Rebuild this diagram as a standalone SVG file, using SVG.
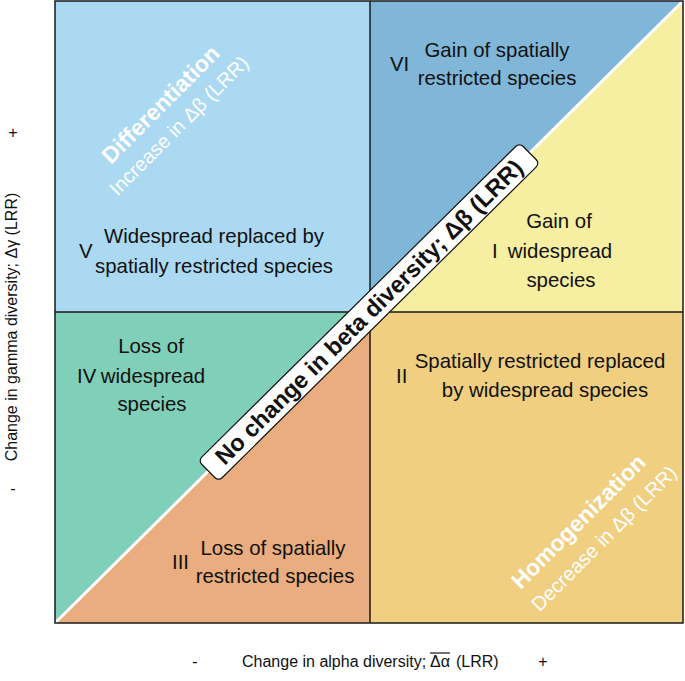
<svg xmlns="http://www.w3.org/2000/svg" width="685" height="681" viewBox="0 0 685 681">
<style>
text{font-family:"Liberation Sans",Arial,sans-serif;fill:#111;}
.q{font-size:20.4px;}
.qc{font-size:20.4px;text-anchor:middle;}
.ax{font-size:16px;}
.axc{font-size:16px;text-anchor:middle;}
.big{font-size:23px;font-weight:bold;fill:#fff;text-anchor:middle;}
.sub{font-size:20px;fill:#fff;text-anchor:middle;}
.div{stroke:#1a1a1a;stroke-width:1.5;fill:none;}
</style>
<rect width="685" height="681" fill="#fff"/>
<g id="quadrants">
<rect id="q-topleft" x="55" y="1" width="315" height="311" fill="#abd9f2"/>
<polygon id="q-vi" points="370,1 683,1 370,312" fill="#80b6d8"/>
<polygon id="q-i" points="683,1 683,312 370,312" fill="#f6eea0"/>
<polygon id="q-iv" points="55,312 370,312 55,623" fill="#80cfb8"/>
<polygon id="q-iii" points="370,312 370,623 55,623" fill="#e9ad80"/>
<rect id="q-ii" x="370" y="312" width="313" height="311" fill="#f0cf80"/>
</g>
<g id="connectors">
<line class="div" x1="370" y1="1" x2="370" y2="623"/>
<line class="div" x1="55" y1="312" x2="683" y2="312"/>
<line x1="55" y1="623" x2="683" y2="1" stroke="#fff" stroke-width="3"/>
<rect x="55" y="1" width="628" height="622" fill="none" stroke="#1a1a1a" stroke-width="1.5"/>
</g>
<g id="node-differentiation" transform="translate(166,110) rotate(-45)">
<text class="big" x="0" y="0">Differentiation</text>
<text class="sub" x="-2" y="27">Increase in Δβ (LRR)</text>
</g>
<g id="node-homogenization" transform="translate(584,527) rotate(-45)">
<text class="big" x="0" y="0">Homogenization</text>
<text class="sub" x="6" y="29">Decrease in Δβ (LRR)</text>
</g>
<g id="node-v">
<text class="q" x="79" y="258">V</text>
<text class="qc" x="214" y="243">Widespread replaced by</text>
<text class="qc" x="214" y="273">spatially restricted species</text>
</g>
<g id="node-vi">
<text class="q" x="390" y="71">VI</text>
<text class="qc" x="497" y="57">Gain of spatially</text>
<text class="qc" x="497" y="85">restricted species</text>
</g>
<g id="node-i">
<text class="qc" x="559" y="228">Gain of</text>
<text class="q" x="492" y="258">I</text>
<text class="qc" x="560" y="258">widespread</text>
<text class="qc" x="561" y="287">species</text>
</g>
<g id="node-iv">
<text class="qc" x="151" y="353">Loss of</text>
<text class="q" x="77" y="383">IV</text>
<text class="qc" x="153" y="383">widespread</text>
<text class="qc" x="152" y="411">species</text>
</g>
<g id="node-iii">
<text class="q" x="172" y="569">III</text>
<text class="qc" x="273" y="555">Loss of spatially</text>
<text class="qc" x="275" y="583">restricted species</text>
</g>
<g id="node-ii">
<text class="q" x="396" y="383">II</text>
<text class="qc" x="540" y="368">Spatially restricted replaced</text>
<text class="qc" x="545" y="397">by widespread species</text>
</g>
<g id="node-nochange" transform="translate(369,312) rotate(-44.7)">
<rect x="-226" y="-14.5" width="452" height="29" rx="5" fill="#fff" stroke="#111" stroke-width="1.2"/>
<text x="0" y="8" style="font-size:23.5px;font-weight:bold;text-anchor:middle;">No change in beta diversity; Δβ (LRR)</text>
</g>
<g id="axis-x">
<text class="axc" x="195" y="667">-</text>
<text class="ax" x="242" y="667">Change in alpha diversity;</text>
<text class="ax" x="430" y="667">Δα</text>
<line x1="430" y1="653" x2="450" y2="653" stroke="#111" stroke-width="1.2"/>
<text class="ax" x="456" y="667">(LRR)</text>
<text class="axc" x="543" y="667">+</text>
</g>
<g id="axis-y">
<text class="axc" x="13" y="138">+</text>
<text class="axc" x="13" y="494">-</text>
<text class="axc" transform="translate(17,327) rotate(-90)">Change in gamma diversity; Δγ (LRR)</text>
</g>
</svg>
